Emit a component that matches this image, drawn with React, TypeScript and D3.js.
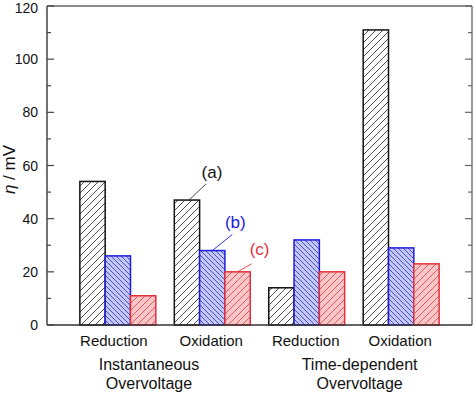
import { useEffect } from "react";
import * as d3 from "d3";

// data
const categories = ["Reduction", "Oxidation", "Reduction", "Oxidation"];
const groupLabels = [
  ["Instantaneous", "Overvoltage"],
  ["Time-dependent", "Overvoltage"],
];
const groupLabelAt = [1.33, 3.56];
const seriesA = [54, 47, 14, 111];
const seriesB = [26, 28, 32, 29];
const seriesC = [11, 20, 20, 23];
const seriesNames = ["(a)", "(b)", "(c)"];
const yTicks = [0, 20, 40, 60, 80, 100, 120];
const yMinor = [10, 30, 50, 70, 90, 110];

const W = 474;
const H = 395;
const margin = { left: 47, right: 2, top: 6, bottom: 70 };
const FONT = "'Liberation Sans', Arial, sans-serif";

const styles = [
  { stroke: "#111", fill: "#fff", hatch: "#222", pat: "hatchA", dir: 1 },
  { stroke: "#1c1ce0", fill: "#c4c8f4", hatch: "#2a2ad8", pat: "hatchB", dir: -1 },
  { stroke: "#e5303a", fill: "#f9c6c8", hatch: "#e0404a", pat: "hatchC", dir: 1 },
];

const App = () => {
  useEffect(() => {
    document.body.style.margin = "0";
  }, []);

  const x = d3
    .scaleLinear()
    .domain([0.25, 4.75])
    .range([margin.left, W - margin.right]);
  const y = d3
    .scaleLinear()
    .domain([0, 120])
    .range([H - margin.bottom, margin.top]);

  const barW = x(1.268) - x(1);
  const series = [seriesA, seriesB, seriesC];

  const barX = (gi: number, si: number) => x(gi + 1) - 1.5 * barW + si * barW;

  // leader line / label offsets for group 2 (Oxidation, instantaneous)
  const notes = [
    { line: [2, 0, 19, -16], text: [25, -28] },
    { line: [0, 0, 20, -16], text: [23, -29] },
    { line: [0, 0, 14, -8], text: [22, -23] },
  ];

  const left = x(0.25);
  const right = x(4.75);
  const top = y(120);
  const bottom = y(0);

  return (
    <svg width={W} height={H} style={{ display: "block", fontFamily: FONT }}>
      <defs>
        {styles.map((s) => (
          <pattern
            key={s.pat}
            id={s.pat}
            patternUnits="userSpaceOnUse"
            width={s.dir === -1 ? 5 : 7}
            height={s.dir === -1 ? 5 : 7}
          >
            <rect
              width={s.dir === -1 ? 5 : 7}
              height={s.dir === -1 ? 5 : 7}
              fill={s.fill}
            />
            {s.dir === 1 ? (
              <path
                d="M-1,1 l2,-2 M0,7 l7,-7 M6,8 l2,-2"
                stroke={s.hatch}
                strokeWidth={0.8}
              />
            ) : (
              <path
                d="M-1,4 l2,2 M0,0 l5,5 M4,-1 l2,2"
                stroke={s.hatch}
                strokeWidth={0.8}
              />
            )}
          </pattern>
        ))}
      </defs>

      {/* bars */}
      {series.map((vals, si) =>
        vals.map((v, gi) => (
          <rect
            key={`${si}-${gi}`}
            x={barX(gi, si)}
            y={y(v)}
            width={barW}
            height={y(0) - y(v)}
            fill={`url(#${styles[si].pat})`}
            stroke={styles[si].stroke}
            strokeWidth={1.5}
          />
        ))
      )}

      {/* frame */}
      <line x1={left} x2={right} y1={top} y2={top} stroke="#666" strokeWidth={1.5} />
      <line x1={right} x2={right} y1={top} y2={bottom} stroke="#777" strokeWidth={1.5} />
      <line x1={left} x2={left} y1={top} y2={bottom} stroke="#444" strokeWidth={1.5} />
      <line x1={left} x2={right} y1={bottom} y2={bottom} stroke="#333" strokeWidth={1.5} />

      {/* y ticks */}
      {yTicks.map((t) => (
        <g key={t}>
          <line x1={left} x2={left + 7} y1={y(t)} y2={y(t)} stroke="#444" strokeWidth={1.2} />
          <line x1={right} x2={right - 7} y1={y(t)} y2={y(t)} stroke="#666" strokeWidth={1.2} />
          <text
            x={left - 9}
            y={y(t)}
            dy={t === 120 ? "0.48em" : "0.36em"}
            textAnchor="end"
            fontSize={14}
            fill="#111"
          >
            {t}
          </text>
        </g>
      ))}
      {yMinor.map((t) => (
        <g key={t}>
          <line x1={left} x2={left + 4} y1={y(t)} y2={y(t)} stroke="#444" strokeWidth={1.2} />
          <line x1={right} x2={right - 4} y1={y(t)} y2={y(t)} stroke="#666" strokeWidth={1.2} />
        </g>
      ))}

      {/* y label */}
      <text
        transform={`translate(15, ${(top + bottom) / 2 + 4}) rotate(-90)`}
        textAnchor="middle"
        fontSize={17}
        fill="#111"
      >
        <tspan fontStyle="italic">η</tspan> / mV
      </text>

      {/* category labels */}
      {categories.map((c, i) => (
        <text
          key={i}
          x={x(i + 1) - (i === 0 ? 4 : 1)}
          y={bottom + 21}
          textAnchor="middle"
          fontSize={15}
          fill="#111"
        >
          {c}
        </text>
      ))}
      {groupLabels.map((lines, gi) =>
        lines.map((l, li) => (
          <text
            key={`${gi}-${li}`}
            x={x(groupLabelAt[gi])}
            y={bottom + 45 + li * 19}
            textAnchor="middle"
            fontSize={16}
            fill="#111"
          >
            {l}
          </text>
        ))
      )}

      {/* series annotations */}
      {series.map((vals, si) => {
        const cx = barX(1, si) + barW / 2;
        const cy = y(vals[1]);
        const n = notes[si];
        return (
          <g key={si}>
            <line
              x1={cx + n.line[0]}
              y1={cy + n.line[1]}
              x2={cx + n.line[2]}
              y2={cy + n.line[3]}
              stroke={si === 0 ? "#333" : styles[si].stroke}
              strokeWidth={0.9}
            />
            <text
              x={cx + n.text[0]}
              y={cy + n.text[1]}
              dy="0.35em"
              textAnchor="middle"
              fontSize={17}
              fill={si === 0 ? "#111" : styles[si].stroke}
            >
              {seriesNames[si]}
            </text>
          </g>
        );
      })}
    </svg>
  );
};

export default App;
